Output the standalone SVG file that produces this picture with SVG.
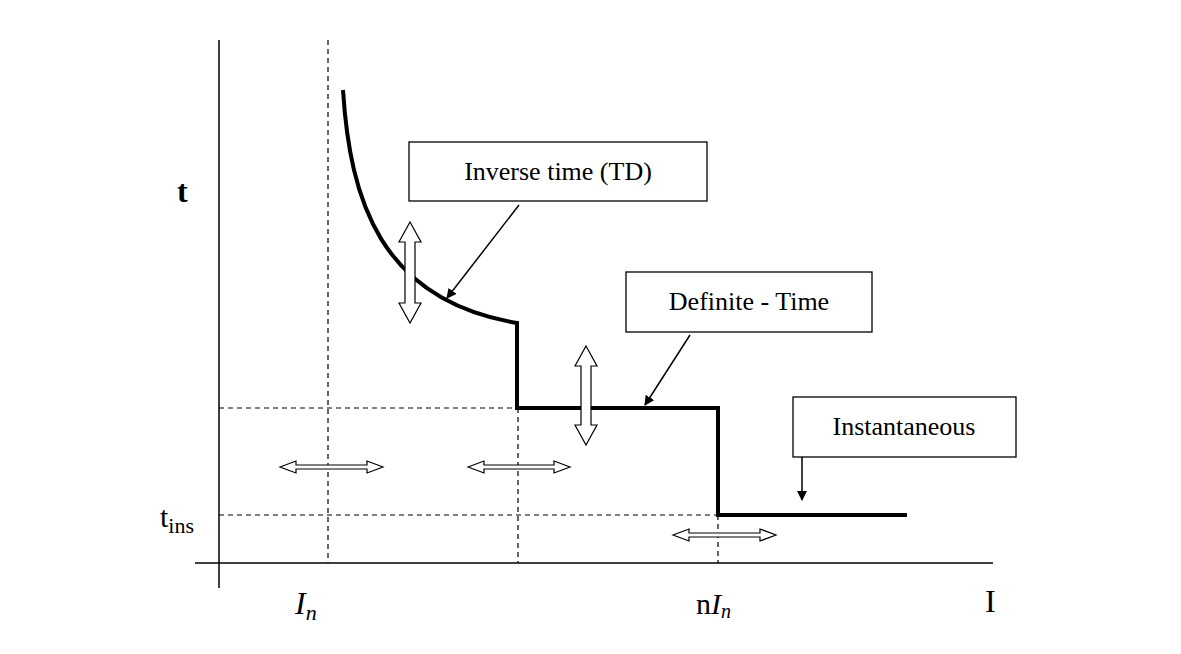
<svg xmlns="http://www.w3.org/2000/svg" width="1181" height="654" viewBox="0 0 1181 654">
<style>
.ax{stroke:#000;stroke-width:1.5;fill:none}
.d{stroke:#000;stroke-width:1.2;stroke-dasharray:5,4;fill:none}
.c{stroke:#000;stroke-width:4;fill:none}
.b{fill:#fff;stroke:#000;stroke-width:1.3}
.h{fill:#fff;stroke:#000;stroke-width:1.2}
text{font-family:"Liberation Serif",serif;fill:#000}
</style>
<defs>
<marker id="ah" markerWidth="10" markerHeight="10" refX="9" refY="5" orient="auto" markerUnits="userSpaceOnUse"><path d="M0,0L10,5L0,10z"/></marker>
</defs>
<rect width="1181" height="654" fill="#fff"/>
<line class="ax" x1="219" y1="40" x2="219" y2="588"/>
<line class="ax" x1="195" y1="563" x2="993" y2="563"/>
<line class="d" x1="328" y1="40" x2="328" y2="563"/>
<line class="d" x1="518" y1="408" x2="518" y2="563"/>
<line class="d" x1="718" y1="515" x2="718" y2="563"/>
<line class="d" x1="219" y1="408" x2="518" y2="408"/>
<line class="d" x1="219" y1="515" x2="718" y2="515"/>
<path class="c" d="M343,90 C350,200 380,300 517,323 L517,408 L718,408 L718,515 L907,515"/>
<g id="n1"><rect class="b" x="409" y="142" width="298" height="59"/><text x="558" y="180" font-size="26" text-anchor="middle">Inverse time (TD)</text></g>
<g id="n2"><rect class="b" x="626" y="272" width="246" height="60"/><text x="749" y="310" font-size="26" text-anchor="middle">Definite - Time</text></g>
<g id="n3"><rect class="b" x="793" y="397" width="223" height="60"/><text x="904" y="435" font-size="26" text-anchor="middle">Instantaneous</text></g>
<g id="connectors">
<line x1="519" y1="205" x2="447" y2="298" stroke="#000" stroke-width="1.5" marker-end="url(#ah)"/>
<line x1="690" y1="335" x2="645" y2="405" stroke="#000" stroke-width="1.5" marker-end="url(#ah)"/>
<line x1="802" y1="457" x2="802" y2="500" stroke="#000" stroke-width="1.5" marker-end="url(#ah)"/>
</g>
<polygon class="h" points="410,222 421,242 415,242 415,303 421,303 410,323 399,303 405,303 405,242 399,242"/>
<polygon class="h" points="586,346 597,366 591,366 591,425 597,425 586,445 575,425 581,425 581,366 575,366"/>
<polygon class="h" points="280,467 296,461 296,465 367,465 367,461 383,467 367,473 367,469 296,469 296,473"/>
<polygon class="h" points="468,467 484,461 484,465 554,465 554,461 570,467 554,473 554,469 484,469 484,473"/>
<polygon class="h" points="673,535 689,529 689,533 760,533 760,529 776,535 760,541 760,537 689,537 689,541"/>
<text x="177" y="202" font-size="32" font-weight="bold">t</text>
<text x="160" y="527" font-size="30">t<tspan font-size="22" dy="6">ins</tspan></text>
<text x="295" y="614" font-size="32" font-style="italic">I<tspan font-size="22" dy="6">n</tspan></text>
<text x="696" y="614" font-size="30">n<tspan font-style="italic">I</tspan><tspan font-size="20" font-style="italic" dy="4">n</tspan></text>
<text x="985" y="612" font-size="32">I</text>
</svg>
